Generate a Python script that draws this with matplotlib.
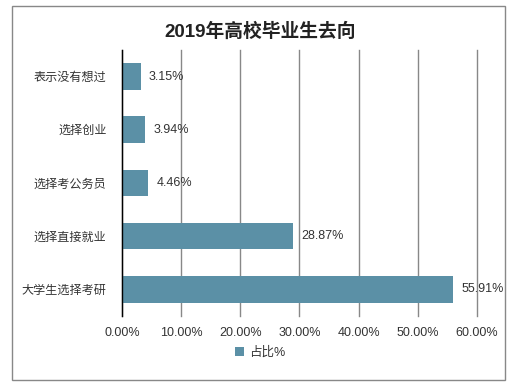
import matplotlib.pyplot as plt
from matplotlib.patches import Rectangle

plt.rcParams['font.family'] = ['Liberation Sans', 'Noto Sans CJK SC', 'DejaVu Sans']

categories = ['大学生选择考研', '选择直接就业', '选择考公务员', '选择创业', '表示没有想过']
values = [55.91, 28.87, 4.46, 3.94, 3.15]
xticks = [0, 10, 20, 30, 40, 50, 60]
bar_color = '#5b90a6'
text_color = '#333333'

fig = plt.figure(figsize=(5.2, 3.87), dpi=100)
ax = fig.add_axes([0.2346, 0.1835, 0.9173 - 0.2346, 0.871 - 0.1835])

pos = list(range(len(categories)))
ax.barh(pos, values, height=0.5, color=bar_color, label='占比%', zorder=3)
for p, v in zip(pos, values):
    ax.annotate(f'{v:.2f}%', (v, p), xytext=(6, 0), textcoords='offset points',
                va='center', ha='left', fontsize=9, color=text_color, zorder=4)

ax.set_xlim(0, 60)
ax.set_ylim(-0.5, 4.5)
ax.set_yticks(pos)
ax.set_yticklabels(categories, fontsize=8.7, color=text_color)
ax.set_xticks(xticks)
ax.set_xticklabels([f'{t:.2f}%' for t in xticks], fontsize=9, color=text_color)
ax.tick_params(length=0, pad=8)
ax.tick_params(axis='y', pad=11)
ax.grid(axis='x', color='#888888', linewidth=1, zorder=0)
for line in ax.get_xgridlines():
    line.set_clip_on(False)
for s in ['top', 'right', 'bottom']:
    ax.spines[s].set_visible(False)
ax.spines['left'].set_color('black')
ax.spines['left'].set_linewidth(1)
ax.spines['left'].set_zorder(5)

fig.text(0.5, 0.918, '2019年高校毕业生去向', ha='center', va='center',
         fontsize=13.5, fontweight='bold', color='#222222')

fig.legend(loc='center', bbox_to_anchor=(0.5, 0.088), frameon=False,
           handlelength=0.7, handleheight=0.7, handletextpad=0.4,
           prop={'size': 9}, labelcolor=text_color)

fig.patches.append(Rectangle((12 / 520, 1 - 380 / 387), (505 - 12) / 520, (380 - 6) / 387,
                             transform=fig.transFigure, fill=False,
                             edgecolor='#888888', linewidth=1))

fig.savefig('out.png', dpi=100)
